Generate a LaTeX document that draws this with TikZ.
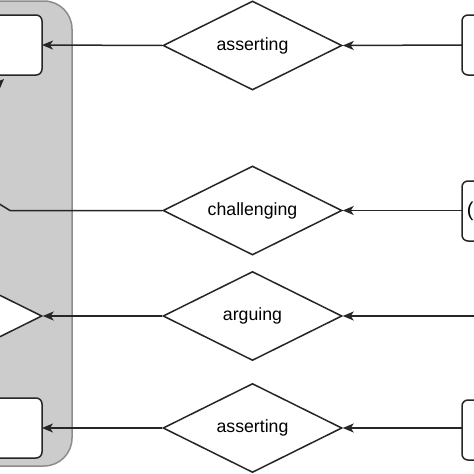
\documentclass[tikz,border=0pt]{standalone}
\usepackage{fontspec}
\setmainfont{Liberation Sans}
\usetikzlibrary{shapes.geometric,arrows.meta}
\definecolor{grpfill}{HTML}{CCCCCC}
\definecolor{grpline}{HTML}{8C8C8C}
\begin{document}
\begin{tikzpicture}[x=1pt,y=-1pt,
  line width=1.5pt,
  box/.style={draw=black!85, fill=white, rounded corners=6pt},
  dia/.style={draw=black!85, fill=white, shape=diamond, shape aspect=2, minimum width=179pt, minimum height=89pt, inner sep=0pt, font=\fontsize{17.7}{20}\selectfont},
  arr/.style={draw=black!85, -{Stealth[length=11pt,width=9pt,inset=3pt]}},
  lbl/.style={font=\fontsize{17.7}{20}\selectfont, inner sep=0pt}]
\useasboundingbox (0,0) rectangle (474,474);
\fill[white] (0,0) rectangle (474,474);
% group container
\draw[grpline, fill=grpfill, line width=1.5pt, rounded corners=28pt] (-120,1) rectangle (72,466);
% left boxes
\draw[box] (-80,15) rectangle (42,75);
\coordinate (tl) at (42,45);
\coordinate (tlb) at (4,79);
\draw[box] (-80,398) rectangle (42,458);
\coordinate (bl) at (42,428);
\node[dia] (dl) at (-47.5,316) {};
% middle diamonds
\node[dia] (d1) at (252.5,45.5) {asserting};
\node[dia] (d2) at (252.5,210.5) {challenging};
\node[dia] (d3) at (252.5,316) {arguing};
\node[dia] (d4) at (252.5,428) {asserting};
% right boxes
\draw[box] (462,15) rectangle (580,75);
\coordinate (r1) at (462,45);
\draw[box] (462,181) rectangle (580,241);
\coordinate (r2) at (462,210.5);
\node[lbl, anchor=west, font=\fontsize{20}{22}\selectfont] (r2t) at (466,211) {(};
\coordinate (r3) at (480,316);
\draw[box] (462,400) rectangle (580,460);
\coordinate (r4) at (462,428);
% connectors
\draw[arr] (r1) -- (d1.east);
\draw[arr] (d1.west) -- (tl);
\draw[arr] (r2) -- (d2.east);
\draw[arr] (d2.west) -- (10,210.5) -- (-30,186) -- (-30,112) -- (tlb);
\draw[arr] (r3) -- (d3.east);
\draw[arr] (d3.west) -- (dl.east);
\draw[arr] (r4) -- (d4.east);
\draw[arr] (d4.west) -- (bl);
\end{tikzpicture}
\end{document}
